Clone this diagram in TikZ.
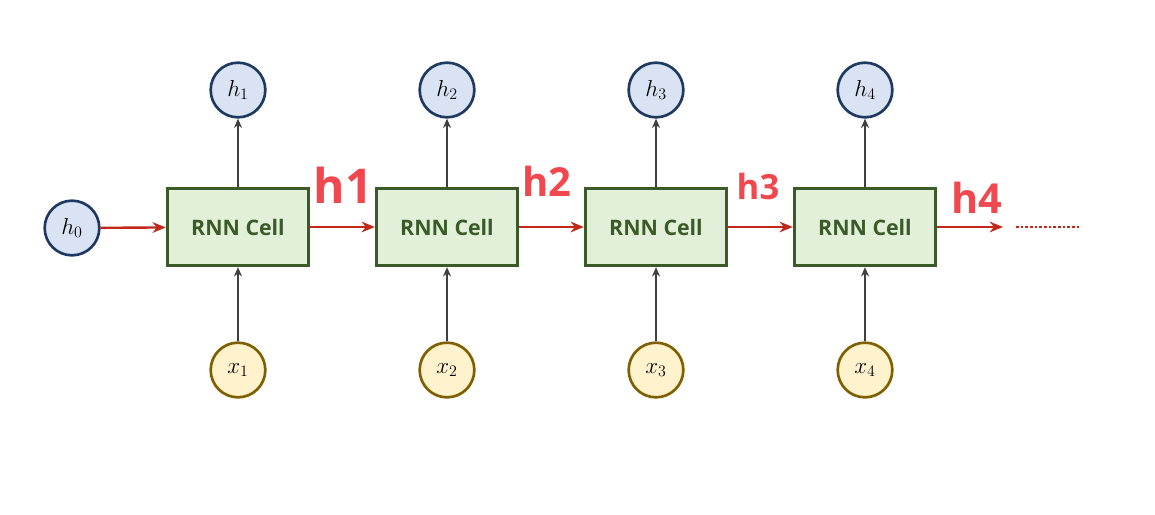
\documentclass[tikz,border=0pt]{standalone}
\usepackage{fontspec}
\newfontfamily\cellfont{Open Sans}
\usetikzlibrary{arrows.meta,positioning}
\definecolor{cellfill}{HTML}{E2F0D9}
\definecolor{celldraw}{HTML}{3A5A28}
\definecolor{hfill}{HTML}{DAE3F3}
\definecolor{hdraw}{HTML}{1F3A60}
\definecolor{xfill}{HTML}{FFF2CC}
\definecolor{xdraw}{HTML}{7F6000}
\definecolor{linkred}{HTML}{C0291A}
\definecolor{labred}{HTML}{F0484E}
\begin{document}
\begin{tikzpicture}[x=0.75pt,y=-0.75pt]
\tikzset{
  cell/.style={draw=celldraw,fill=cellfill,line width=2.2pt,minimum width=106pt,minimum height=58pt,
    font=\cellfont\bfseries\fontsize{16}{18}\selectfont,text=celldraw},
  hst/.style={circle,draw=hdraw,fill=hfill,line width=2pt,minimum size=41pt,inner sep=0pt,font=\fontsize{17}{19}\selectfont},
  xin/.style={hst,draw=xdraw,fill=xfill},
  up/.style={draw=black!75,line width=1.8pt,-{Stealth[length=7pt,width=6pt]}},
  link/.style={draw=linkred,line width=1.8pt,-{Stealth[length=10pt,width=8pt]}},
  lab/.style={text=labred,font=\cellfont\bfseries}
}
\useasboundingbox (0,0) rectangle (1155,514);

\node[hst] (h0) at (72,228) {$h_0$};
\foreach \i/\xx in {1/238,2/447,3/656,4/865}{
  \node[cell] (c\i) at (\xx,227) {RNN Cell};
  \node[hst] (h\i) at (\xx,90) {$h_\i$};
  \node[xin] (x\i) at (\xx,370) {$x_\i$};
  \draw[up] (c\i) -- (h\i);
  \draw[up] (x\i) -- (c\i);
}
\draw[link] (h0) -- (c1);
\draw[link] (c1) -- (c2);
\draw[link] (c2) -- (c3);
\draw[link] (c3) -- (c4);
\coordinate (tip) at (1003,227);
\coordinate (dots0) at (1016,227);
\coordinate (dots1) at (1080,227);
\draw[link] (c4) -- (tip);
\draw[linkred,line width=2.2pt,dash pattern=on 2pt off 1.5pt] (dots0) -- (dots1);

\node[lab,font=\cellfont\bfseries\fontsize{36}{38}\selectfont] (l1) at (343,185) {h1};
\node[lab,font=\cellfont\bfseries\fontsize{30}{32}\selectfont] (l2) at (547,181) {h2};
\node[lab,font=\cellfont\bfseries\fontsize{26}{28}\selectfont] (l3) at (758,186) {h3};
\node[lab,font=\cellfont\bfseries\fontsize{31}{33}\selectfont] (l4) at (977,198) {h4};
\end{tikzpicture}
\end{document}
